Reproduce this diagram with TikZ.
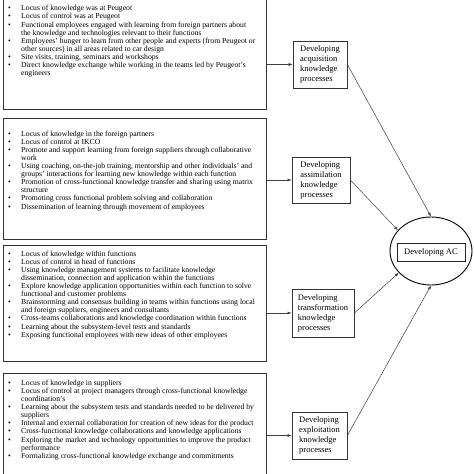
\documentclass[tikz,border=0pt]{standalone}
\usepackage{fontspec}
\setmainfont{Liberation Serif}
\usetikzlibrary{shapes.geometric,arrows.meta}
\newcommand{\bl}{\makebox[13pt][l]{\textbullet}}
\newcommand{\cn}{\hspace*{13pt}}
\begin{document}
\begin{tikzpicture}[x=1pt,y=-1pt,
  leftbox/.style={draw=black!80, line width=1pt, inner sep=0pt, anchor=north west, minimum width=263pt},
  listtext/.style={anchor=north west, inner sep=0pt, align=left, font=\fontsize{7.7}{8.1}\selectfont},
  procbox/.style={draw=black!80, line width=0.8pt, align=left, inner sep=0pt, font=\fontsize{8.5}{10}\selectfont},
  arr/.style={draw=black!75, line width=0.5pt, -{Latex[length=4pt,width=3pt]}}
]
\useasboundingbox (0,0) rectangle (474,474);
\clip (0,0) rectangle (474,474);
\fill[white] (0,0) rectangle (474,474);

% left boxes
\node[leftbox, minimum height=119pt] (b1) at (2.5,-10) {};
\node[leftbox, minimum height=121pt] (b2) at (2.5,118) {};
\node[leftbox, minimum height=116pt] (b3) at (2.5,245) {};
\node[leftbox, minimum height=120pt] (b4) at (2.5,373) {};

\node[listtext] (t1) at (8,5.2) {%
\bl Locus of knowledge was at Peugeot\\
\bl Locus of control was at Peugeot\\
\bl Functional employees engaged with learning from foreign partners about\\
\cn the knowledge and technologies relevant to their functions\\
\bl Employees' hunger to learn from other people and experts (from Peugeot or\\
\cn other sources) in all areas related to car design\\
\bl Site visits, training, seminars and workshops\\
\bl Direct knowledge exchange while working in the teams led by Peugeot's\\
\cn engineers};

\node[listtext] (t2) at (8,130.5) {%
\bl Locus of knowledge in the foreign partners\\
\bl Locus of control at IKCO\\
\bl Promote and support learning from foreign suppliers through collaborative\\
\cn work\\
\bl Using coaching, on-the-job training, mentorship and other individuals' and\\
\cn groups' interactions for learning new knowledge within each function\\
\bl Promotion of cross-functional knowledge transfer and sharing using matrix\\
\cn structure\\
\bl Promoting cross functional problem solving and collaboration\\
\bl Dissemination of learning through movement of employees};

\node[listtext] (t3) at (8,250.5) {%
\bl Locus of knowledge within functions\\
\bl Locus of control in head of functions\\
\bl Using knowledge management systems to facilitate knowledge\\
\cn dissemination, connection and application within the functions\\
\bl Explore knowledge application opportunities within each function to solve\\
\cn functional and customer problems\\
\bl Brainstorming and consensus building in teams within functions using local\\
\cn and foreign suppliers, engineers and consultants\\
\bl Cross-teams collaborations and knowledge coordination within functions\\
\bl Learning about the subsystem-level tests and standards\\
\bl Exposing functional employees with new ideas of other employees};

\node[listtext] (t4) at (8,379.7) {%
\bl Locus of knowledge in suppliers\\
\bl Locus of control at project managers through cross-functional knowledge\\
\cn coordination's\\
\bl Learning about the subsystem tests and standards needed to be delivered by\\
\cn suppliers\\
\bl Internal and external collaboration for creation of new ideas for the product\\
\bl Cross-functional knowledge collaborations and knowledge applications\\
\bl Exploring the market and technology opportunities to improve the product\\
\cn performance\\
\bl Formalizing cross-functional knowledge exchange and commitments};

% process boxes
\node[procbox, minimum width=54pt, minimum height=47pt] (acq) at (320,64.5) {Developing\\acquisition\\knowledge\\processes};
\node[procbox, minimum width=58pt, minimum height=46pt] (assim) at (321,180) {Developing\\assimilation\\knowledge\\processes};
\node[procbox, minimum width=62pt, minimum height=48pt] (trans) at (323,313) {Developing\\transformation\\knowledge\\processes};
\node[procbox, minimum width=55pt, minimum height=47pt] (expl) at (319.5,435.5) {Developing\\exploitation\\knowledge\\processes};

% AC
\node[ellipse, draw=black, line width=0.9pt, minimum width=82pt, minimum height=68pt, inner sep=0pt] (ac) at (431,251) {};
\node[draw=black!85, line width=0.8pt, minimum width=68pt, minimum height=18pt, inner sep=0pt, font=\fontsize{8.5}{10}\selectfont] (acbox) at (431,252) {Developing AC};

% connectors
\draw[arr] (acq.west -| b1.east) -- (acq.west);
\draw[arr] (assim.west -| b2.east) -- (assim.west);
\draw[arr] (trans.west -| b3.east) -- (trans.west);
\draw[arr] (expl.west -| b4.east) -- (expl.west);

\draw[arr] (acq.east) -- (ac.north);
\draw[arr] (assim.east) -- (ac.148);
\draw[arr] (trans.east) -- (ac.214);
\draw[arr] (expl.east) -- (ac.south);
\end{tikzpicture}
\end{document}
